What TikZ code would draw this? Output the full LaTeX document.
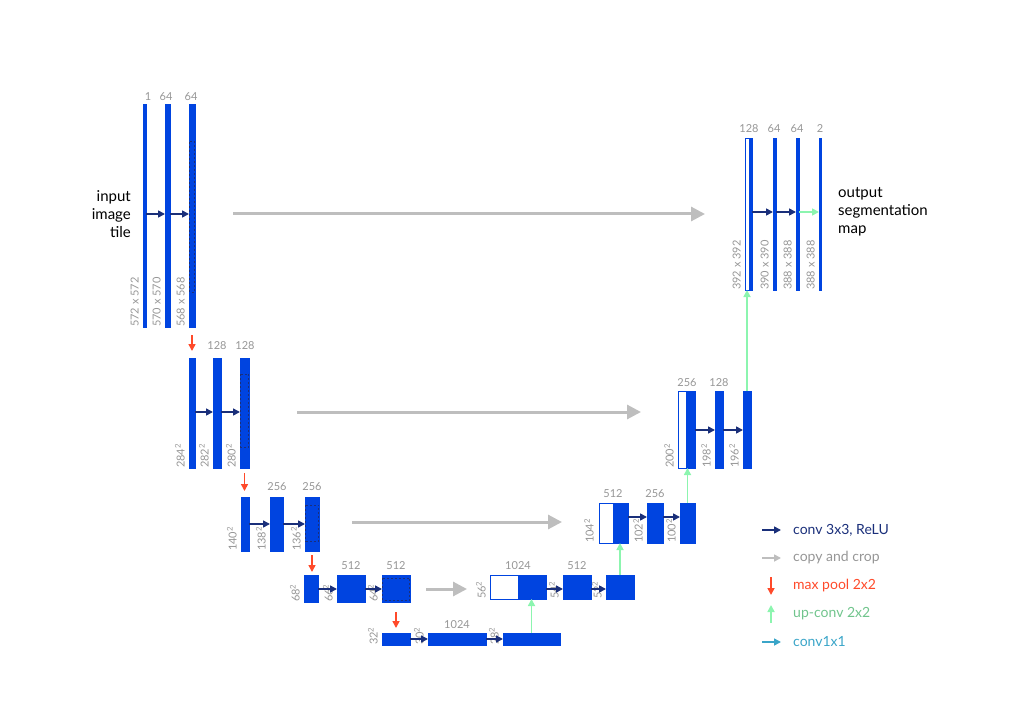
\documentclass[tikz,border=0pt]{standalone}
\usepackage{fontspec}
\setmainfont{Lato}
\usetikzlibrary{arrows.meta}
\definecolor{ublue}{RGB}{0,68,224}
\definecolor{unavy}{RGB}{26,47,122}
\definecolor{ugray}{RGB}{190,190,190}
\definecolor{ulab}{RGB}{150,150,150}
\definecolor{ured}{RGB}{255,74,42}
\definecolor{ugreen}{RGB}{140,245,175}
\definecolor{uteal}{RGB}{58,165,200}
\newcommand\ubox[6][]{\node[bar,#1,minimum width={(#4-#2)*1pt},minimum height={(#5-#3)*1pt}] (#6) at ({(#2+#4)/2},{(#3+#5)/2}) {};}
\newcommand\utop[3]{\node[toplab] at (#1,#2) {#3};}
\newcommand\uside[3]{\node[sidelab] at (#1,#2) {#3};}
\newcommand\sq[1]{#1\textsuperscript{2}}
\begin{document}
\begin{tikzpicture}[x=1pt,y=-1pt,
  bar/.style={fill=ublue,draw=ublue,inner sep=0,outer sep=0,line width=0.6pt},
  wbar/.style={fill=white,draw=ublue,line width=1pt},
  toplab/.style={text=ulab,font=\fontsize{11}{11}\selectfont,inner sep=0},
  sidelab/.style={text=ulab,font=\fontsize{11}{11}\selectfont,rotate=90,anchor=south west,inner sep=0},
  conv/.style={draw=unavy,line width=1.6pt,-{Triangle[length=7pt,width=7pt]}},
  copy/.style={draw=ugray,line width=3pt,-{Triangle[length=14pt,width=14pt]}},
  pool/.style={draw=ured,line width=1.6pt,-{Triangle[length=7pt,width=7pt]}},
  up/.style={draw=ugreen,line width=1.6pt,-{Triangle[length=7pt,width=7pt]}},
  one/.style={draw=uteal,line width=1.6pt,-{Triangle[length=7pt,width=7pt]}},
  dsh/.style={draw=unavy,line width=1pt,dash pattern=on 2pt off 2pt},
  legtext/.style={anchor=west,font=\fontsize{14}{14}\selectfont,inner sep=0},
  big/.style={font=\fontsize{15}{18}\selectfont,align=left,inner sep=0}]
\useasboundingbox (0,0) rectangle (1024,727);
% level 1 left
\ubox{143}{104}{146}{327}{a1}
\ubox{165}{104}{170}{327}{a2}
\ubox{189}{104}{195}{327}{a3}
\draw[dsh] (189.5,142) rectangle (194.5,292);
\utop{148}{97}{1}\utop{166}{97}{64}\utop{191}{97}{64}
\uside{139}{327}{572 x 572}\uside{161}{327}{570 x 570}\uside{185}{327}{568 x 568}
\draw[conv] (a1.east|-0,214) -- (a2.west|-0,214);
\draw[conv] (a2.east|-0,214) -- (a3.west|-0,214);
\node[big,align=right,anchor=east] (in) at (131,214) {input\\image\\tile};
% level 2 left
\ubox{189}{358}{195}{468}{b1}
\ubox{213}{358}{221}{468}{b2}
\ubox{240}{358}{249}{468}{b3}
\draw[dsh] (240.5,374) rectangle (248.5,447);
\utop{217}{346}{128}\utop{245}{346}{128}
\uside{185}{468}{\sq{284}}\uside{209}{468}{\sq{282}}\uside{236}{468}{\sq{280}}
\draw[conv] (b1.east|-0,412) -- (b2.west|-0,412);
\draw[conv] (b2.east|-0,412) -- (b3.west|-0,412);
% level 3 left
\ubox{241}{497}{249}{551}{c1}
\ubox{270}{497}{283}{551}{c2}
\ubox{305}{497}{319}{551}{c3}
\draw[dsh] (305.5,505) rectangle (318.5,541);
\utop{277}{487}{256}\utop{312}{487}{256}
\uside{237}{551}{\sq{140}}\uside{266}{551}{\sq{138}}\uside{301}{551}{\sq{136}}
\draw[conv] (c1.east|-0,524) -- (c2.west|-0,524);
\draw[conv] (c2.east|-0,524) -- (c3.west|-0,524);
% level 4 left
\ubox{304}{575}{318}{602}{d1}
\ubox{337}{575}{365}{602}{d2}
\ubox{382}{575}{410}{602}{d3}
\draw[dsh] (382.5,578) rectangle (409.5,600);
\utop{351}{566}{512}\utop{396}{566}{512}
\uside{300}{602}{\sq{68}}\uside{333}{602}{\sq{66}}\uside{378}{602}{\sq{64}}
\draw[conv] (d1.east|-0,589) -- (d2.west|-0,589);
\draw[conv] (d2.east|-0,589) -- (d3.west|-0,589);
% level 5
\ubox{382}{633}{410}{645}{e1}
\ubox{428}{633}{486}{645}{e2}
\ubox{503}{633}{560}{645}{e3}
\utop{457}{625}{1024}
\uside{378}{645}{\sq{32}}\uside{424}{645}{\sq{30}}\uside{499}{645}{\sq{28}}
\draw[conv] (e1.east|-0,639) -- (e2.west|-0,639);
\draw[conv] (e2.east|-0,639) -- (e3.west|-0,639);
% level 4 right
\ubox[wbar]{490}{575}{518}{599}{f0}
\ubox{518}{575}{546}{599}{f1}
\ubox{563}{575}{591}{599}{f2}
\ubox{606}{575}{634}{599}{f3}
\utop{518}{566}{1024}\utop{577}{566}{512}
\uside{486}{599}{\sq{56}}\uside{559}{599}{\sq{54}}\uside{602}{599}{\sq{52}}
\draw[conv] (f1.east|-0,589) -- (f2.west|-0,589);
\draw[conv] (f2.east|-0,589) -- (f3.west|-0,589);
% level 3 right
\ubox[wbar]{599}{503}{613}{543}{g0}
\ubox{613}{503}{628}{543}{g1}
\ubox{647}{503}{663}{543}{g2}
\ubox{680}{503}{695}{543}{g3}
\utop{613}{494}{512}\utop{655}{494}{256}
\uside{594}{543}{\sq{104}}\uside{643}{543}{\sq{102}}\uside{676}{543}{\sq{100}}
\draw[conv] (g1.east|-0,517) -- (g2.west|-0,517);
\draw[conv] (g2.east|-0,517) -- (g3.west|-0,517);
% level 2 right
\ubox[wbar]{678}{391}{686}{468}{h0}
\ubox{686}{391}{695}{468}{h1}
\ubox{715}{391}{723}{468}{h2}
\ubox{743}{391}{751}{468}{h3}
\utop{687}{383}{256}\utop{719}{383}{128}
\uside{674}{468}{\sq{200}}\uside{711}{468}{\sq{198}}\uside{739}{468}{\sq{196}}
\draw[conv] (h1.east|-0,430) -- (h2.west|-0,430);
\draw[conv] (h2.east|-0,430) -- (h3.west|-0,430);
% level 1 right
\ubox[wbar,line width=0.8pt]{745}{138}{749}{290}{i0}
\ubox{749}{138}{752}{290}{i1}
\ubox{773}{138}{776}{290}{i2}
\ubox{796}{138}{799}{290}{i3}
\ubox{819}{138}{821}{290}{i4}
\utop{749}{129}{128}\utop{774}{129}{64}\utop{797}{129}{64}\utop{820}{129}{2}
\uside{741}{290}{392 x 392}\uside{769}{290}{390 x 390}\uside{792}{290}{388 x 388}\uside{815}{290}{388 x 388}
\draw[conv] (i1.east|-0,212) -- (i2.west|-0,212);
\draw[conv] (i2.east|-0,212) -- (i3.west|-0,212);
\draw[one,draw=ugreen] (i3.east|-0,212) -- (i4.west|-0,212);
\node[big,anchor=west] (out) at (838,212) {output\\segmentation\\map};
% copy and crop
\coordinate (k1) at (233,214); \coordinate (k1e) at (705,214);
\coordinate (k2) at (297,412); \coordinate (k2e) at (641,412);
\coordinate (k3) at (352,522); \coordinate (k3e) at (562,522);
\coordinate (k4) at (426,589); \coordinate (k4e) at (467,589);
\draw[copy] (k1) -- (k1e);
\draw[copy] (k2) -- (k2e);
\draw[copy] (k3) -- (k3e);
\draw[copy] (k4) -- (k4e);
% max pool
\draw[pool] (a3.south) ++(0,8) -- ++(0,16);
\draw[pool] (b3.south) ++(0,5) -- ++(0,18);
\draw[pool] (c3.south) ++(0,4) -- ++(0,17);
\draw[pool] (d3.south) ++(0,10) -- ++(0,16);
% up-conv
\draw[up] (e3.north) -- (f1.south -| e3.north);
\draw[up] (f3.north) -- (g1.south -| f3.north);
\draw[up] (g3.north) -- (h1.south -| g3.north);
\draw[up] (h3.north) -- (i1.south -| h3.north);
% legend
\draw[conv] (762,530) -- (781,530);
\node[legtext,text=unavy] (l1) at (793,530) {conv 3x3, ReLU};
\draw[copy,line width=1.6pt,-{Triangle[length=7pt,width=7pt]}] (762,558) -- (781,558);
\node[legtext,text=ulab] (l2) at (793,558) {copy and crop};
\draw[pool] (771,577) -- (771,595);
\node[legtext,text=ured] (l3) at (793,586) {max pool 2x2};
\draw[up] (771,623) -- (771,605);
\node[legtext,text=ugreen!80!black] (l4) at (793,614) {up-conv 2x2};
\draw[one] (762,642) -- (781,642);
\node[legtext,text=uteal] (l5) at (793,642) {conv1x1};
\end{tikzpicture}
\end{document}
